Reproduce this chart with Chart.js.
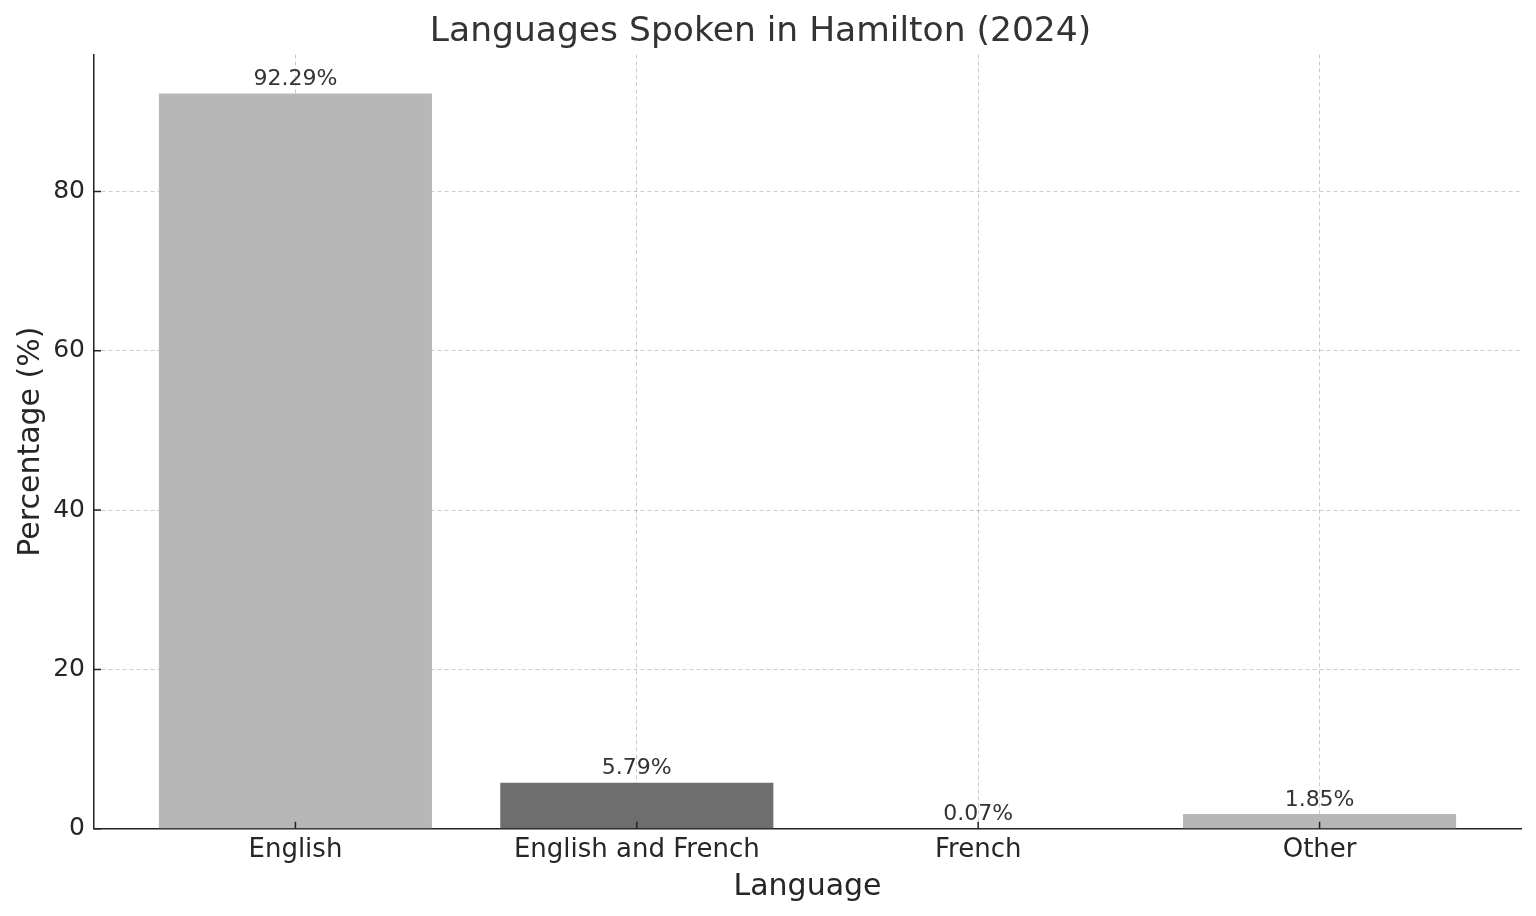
<!DOCTYPE html>
<html>
<head>
<meta charset="utf-8">
<script src="https://cdn.jsdelivr.net/npm/chart.js@4.4.1/dist/chart.umd.min.js"></script>
<style>
    html, body { margin: 0; padding: 0; background: #fff; }
    #wrap { width: 1536px; height: 916px; }
</style>
</head>
<body>
<div id="wrap"><canvas id="langChart"></canvas></div>
<script>
// Data
const categories = ['English', 'English and French', 'French', 'Other'];
const percentages = [92.29, 5.79, 0.07, 1.85];
const barColors = ['#b7b7b7', '#6e6e6e', '#8c8c8c', '#b7b7b7'];
const yTicks = [0, 20, 40, 60, 80];

const gridColor = 'rgba(0, 0, 0, 0.2)';
const textColor = '#262626';

Chart.defaults.font.family = "'DejaVu Sans', sans-serif";
Chart.defaults.color = textColor;

// value labels above each bar
const valueLabels = {
    id: 'valueLabels',
    afterDatasetsDraw(chart) {
        const ctx = chart.ctx;
        const meta = chart.getDatasetMeta(0);
        ctx.save();
        ctx.font = "22px 'DejaVu Sans', sans-serif";
        ctx.fillStyle = '#333';
        ctx.textAlign = 'center';
        ctx.textBaseline = 'bottom';
        meta.data.forEach((bar, i) => {
            ctx.fillText(percentages[i].toFixed(2) + '%', bar.x, bar.y - 3);
        });
        ctx.restore();
    }
};

// matplotlib-style inward tick marks
const inwardTicks = {
    id: 'inwardTicks',
    afterDraw(chart) {
        const ctx = chart.ctx;
        const x = chart.scales.x, y = chart.scales.y;
        ctx.save();
        ctx.strokeStyle = '#222';
        ctx.lineWidth = 1.5;
        ctx.beginPath();
        x.ticks.forEach(t => {
            const px = x.getPixelForValue(t.value);
            ctx.moveTo(px, y.bottom);
            ctx.lineTo(px, y.bottom - 7);
        });
        y.ticks.forEach(t => {
            const py = y.getPixelForValue(t.value);
            ctx.moveTo(x.left, py);
            ctx.lineTo(x.left + 7, py);
        });
        ctx.stroke();
        ctx.restore();
    }
};

const ctx = document.getElementById('langChart').getContext('2d');
new Chart(ctx, {
    type: 'bar',
    data: {
        datasets: [{
            data: percentages.map((v, i) => ({ x: i, y: v })),
            backgroundColor: barColors,
            borderWidth: 0,
            barPercentage: 0.8,
            categoryPercentage: 1.0
        }]
    },
    options: {
        responsive: true,
        maintainAspectRatio: false,
        animation: false,
        layout: { padding: { left: 0, right: 15, top: 0, bottom: 14 } },
        plugins: {
            legend: { display: false },
            tooltip: { enabled: false },
            title: {
                display: true,
                text: 'Languages Spoken in Hamilton (2024)',
                color: '#333',
                font: { size: 34.5, weight: 'normal' },
                padding: { top: 11, bottom: 2 }
            }
        },
        scales: {
            x: {
                type: 'linear',
                min: -0.59,
                max: 3.59,
                offset: false,
                z: 1,
                afterBuildTicks: scale => {
                    scale.ticks = categories.map((c, i) => ({ value: i }));
                },
                ticks: {
                    callback: v => categories[v],
                    font: { size: 26 },
                    color: textColor,
                    padding: 6,
                    maxRotation: 0
                },
                grid: {
                    color: gridColor,
                    offset: false,
                    drawTicks: false
                },
                border: { display: true, color: '#222', width: 1.5, dash: [4, 3] },
                title: {
                    display: true,
                    text: 'Language',
                    font: { size: 30, lineHeight: 1.0 },
                    color: textColor,
                    padding: { top: 0, bottom: 0 }
                }
            },
            y: {
                min: 0,
                max: 97.2,
                z: 1,
                afterBuildTicks: scale => {
                    scale.ticks = yTicks.map(v => ({ value: v }));
                },
                afterFit: scale => { scale.width = 94; },
                ticks: {
                    font: { size: 25 },
                    color: textColor,
                    padding: 9
                },
                grid: {
                    color: gridColor,
                    drawTicks: false
                },
                border: { display: true, color: '#222', width: 1.5, dash: [4, 3] },
                title: {
                    display: true,
                    text: 'Percentage (%)',
                    font: { size: 30 },
                    color: textColor,
                    padding: { top: 13, bottom: 0 }
                }
            }
        }
    },
    plugins: [valueLabels, inwardTicks]
});
</script>
</body>
</html>
